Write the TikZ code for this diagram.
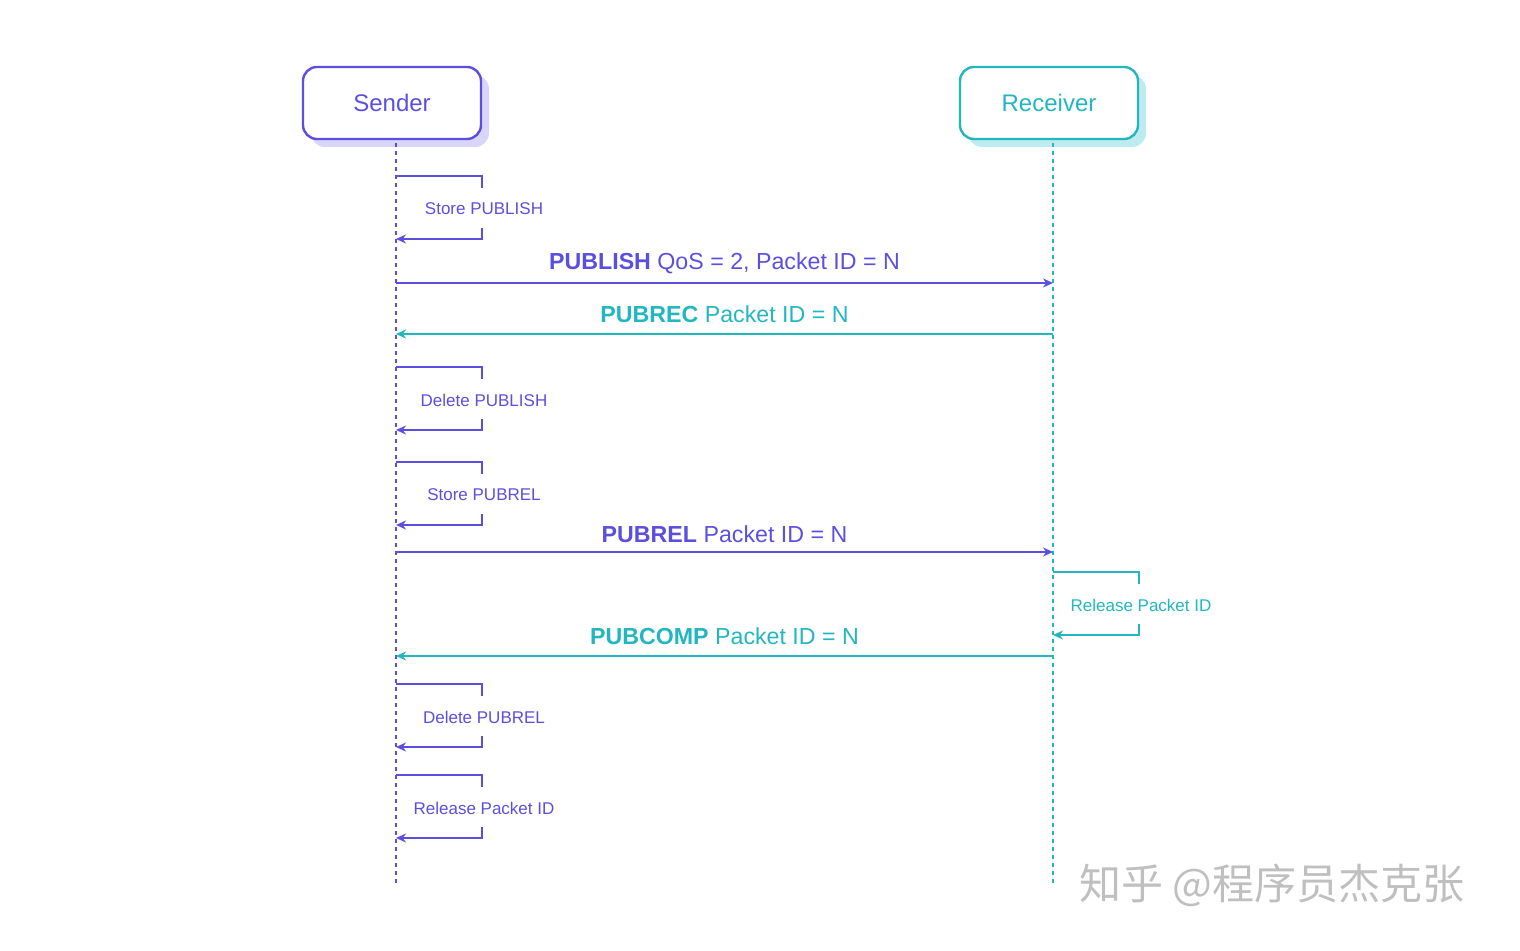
\documentclass[tikz,border=0pt]{standalone}
\usepackage{fontspec}
\setmainfont{Liberation Sans}
\newfontfamily\cjk{Noto Sans CJK SC}
\usetikzlibrary{arrows.meta}
\definecolor{pur}{HTML}{5B4FE0}
\definecolor{tea}{HTML}{22B7C0}
\definecolor{purs}{HTML}{D9D5FA}
\definecolor{teas}{HTML}{BDEBEF}
\begin{document}
\begin{tikzpicture}[x=0.5pt,y=-0.5pt,
  actor/.style={draw,line width=1.2pt,rounded corners=7pt,minimum width=89pt,minimum height=36pt,fill=white,font=\fontsize{12pt}{14pt}\selectfont},
  life/.style={dashed,dash pattern=on 2pt off 2pt,line width=0.7pt},
  msg/.style={line width=0.8pt,-{Stealth[length=5pt,width=4.5pt]}},
  mlab/.style={font=\fontsize{11.6pt}{13pt}\selectfont},
  llab/.style={font=\fontsize{8.5pt}{10pt}\selectfont}]
\useasboundingbox (0,0) rectangle (1520,951);
\fill[purs,rounded corners=7pt] (311,75) rectangle (489,147);
\fill[teas,rounded corners=7pt] (968,75) rectangle (1146,147);
\node[actor,draw=pur,text=pur] (S) at (392,103) {Sender};
\node[actor,draw=tea,text=tea] (R) at (1049,103) {Receiver};
\coordinate (Sb) at (396,883); \coordinate (Rb) at (1053,883);
\draw[life,pur] (396,143) -- (Sb);
\draw[life,tea] (1053,143) -- (Rb);
\newcommand\selfloop[4]{% x, ytop, color, label
  \draw[line width=0.8pt,#3] (#1,#2) -- ++(86,0) -- ++(0,12);
  \draw[line width=0.8pt,#3,-{Stealth[length=5pt,width=4.5pt]}] (#1+86,#2+52) -- ++(0,11) -- ++(-86,0);
  \node[llab,text=#3] at (#1+88,#2+33) {#4};}
\selfloop{396}{176}{pur}{Store PUBLISH}
\selfloop{396}{367}{pur}{Delete PUBLISH}
\selfloop{396}{462}{pur}{Store PUBREL}
\selfloop{1053}{572}{tea}{Release Packet ID}
\selfloop{396}{684}{pur}{Delete PUBREL}
\selfloop{396}{775}{pur}{Release Packet ID}
\coordinate (a1) at (396,283); \coordinate (b1) at (1053,283);
\draw[msg,pur] (a1) -- (b1) node[mlab,midway,above=1pt,text=pur] {\textbf{PUBLISH} QoS = 2, Packet ID = N};
\coordinate (a2) at (1053,334); \coordinate (b2) at (396,334);
\draw[msg,tea] (a2) -- (b2) node[mlab,midway,above=2pt,text=tea] {\textbf{PUBREC} Packet ID = N};
\coordinate (a3) at (396,552); \coordinate (b3) at (1053,552);
\draw[msg,pur] (a3) -- (b3) node[mlab,midway,above=1pt,text=pur] {\textbf{PUBREL} Packet ID = N};
\coordinate (a4) at (1053,656); \coordinate (b4) at (396,656);
\draw[msg,tea] (a4) -- (b4) node[mlab,midway,above=2pt,text=tea] {\textbf{PUBCOMP} Packet ID = N};
\node[font=\cjk\fontsize{21pt}{24pt}\selectfont,text=black!25] (wm) at (1272,885) {知乎 @程序员杰克张};
\end{tikzpicture}
\end{document}
